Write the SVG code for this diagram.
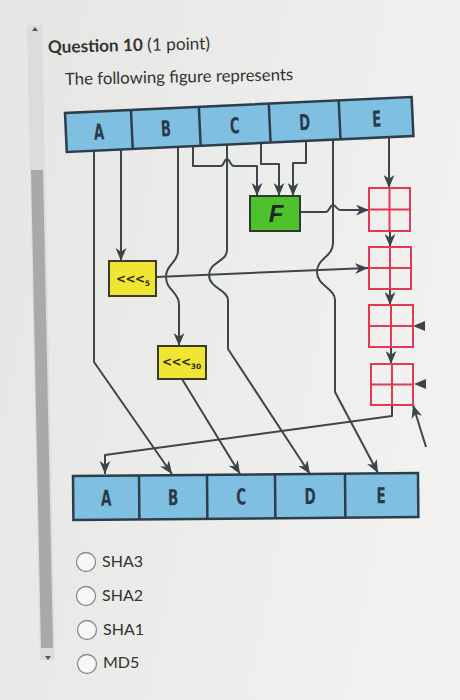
<svg xmlns="http://www.w3.org/2000/svg" width="460" height="700" viewBox="0 0 460 700">
<defs>
<linearGradient id="bg" x1="0" y1="0" x2="1" y2="0.3">
<stop offset="0" stop-color="#e5e5e3"/>
<stop offset="1" stop-color="#f1f1ef"/>
</linearGradient>
<marker id="ah" viewBox="0 0 12 10" refX="12" refY="5" markerWidth="13" markerHeight="11" markerUnits="userSpaceOnUse" orient="auto">
<path d="M0,0 L12,5 L0,10 L3.5,5 Z" fill="#3b444b"/>
</marker>
<style>
.ln{fill:none;stroke:#3d464d;stroke-width:2;stroke-linejoin:round}
.bar{fill:#7fbfe2;stroke:#2d3e4a;stroke-width:2.5}
.div{stroke:#2d3e4a;stroke-width:2.5}
.lt{font-family:"DejaVu Sans",sans-serif;font-weight:bold;fill:#2a3a48;text-anchor:middle}
.grid{fill:none;stroke:#e23a55;stroke-width:2}
.ybox{fill:#efe532;stroke:#3a3a28;stroke-width:2}
.yt{font-family:"DejaVu Sans",sans-serif;font-weight:bold;fill:#2f2f22;letter-spacing:-0.5px}
.ui{font-family:Lato,"Liberation Sans",sans-serif;fill:#333}
.opt{fill:#f7f7f6;stroke:#8c8c8c;stroke-width:1.3}
</style>
</defs>
<rect width="460" height="700" fill="url(#bg)"/>
<!-- scrollbar -->
<polygon points="27,25 42,25 55,660 40,660" fill="#dcdcda"/>
<polygon points="31,170 43,170 53,648 41,648" fill="#a9a9a8"/>
<path d="M32,31 L35,27 L38,31 Z" fill="#555"/>
<path d="M45,656 L51,656 L48,660 Z" fill="#555"/>

<text class="ui" x="48" y="53" font-size="17.2" transform="rotate(-1.3 48 53)"><tspan font-weight="bold">Question 10</tspan> (1 point)</text>
<text class="ui" x="65" y="85" font-size="16.8" transform="rotate(-1.2 65 85)">The following figure represents</text>

<g id="connectors">
<path class="ln" d="M94,148 V362 L172,474" marker-end="url(#ah)"/>
<path class="ln" d="M121,148 V261" marker-end="url(#ah)"/>
<path class="ln" d="M178,145 V251 C178,263 166,264 166,277 C166,290 179,292 179,304 V346" marker-end="url(#ah)"/>
<path class="ln" d="M193,144 V166 H221 C224,166 224,159 227,159 C230,159 230,166 234,166 H257 V196" marker-end="url(#ah)"/>
<path class="ln" d="M227,142 V250 C227,262 209,262 209,275 C209,288 228,290 228,300 V349 L310,474" marker-end="url(#ah)"/>
<path class="ln" d="M261,141 V164 H279 V196" marker-end="url(#ah)"/>
<path class="ln" d="M306,139 V163 H293 V196" marker-end="url(#ah)"/>
<path class="ln" d="M333,138 V243 C333,257 317,258 317,272 C317,286 335,288 335,300 V392 L378,473" marker-end="url(#ah)"/>
<path class="ln" d="M389,135 V188" marker-end="url(#ah)"/>
<path class="ln" d="M300,212 H326 C329,212 330,205 333,205 C336,205 337,210 340,210 H369" marker-end="url(#ah)"/>
<path class="ln" d="M156,277 L368,268" marker-end="url(#ah)"/>
<path class="ln" d="M390,231 V247" marker-end="url(#ah)"/>
<path class="ln" d="M390,289 V305" marker-end="url(#ah)"/>
<path class="ln" d="M391,347 V364" marker-end="url(#ah)"/>
<path class="ln" d="M182,379 L240,474" marker-end="url(#ah)"/>
<path class="ln" d="M392,405 V416 L105,455 V474" marker-end="url(#ah)"/>
<path class="ln" d="M426,447 L413,405" marker-end="url(#ah)"/>
<path d="M413,326 L425,321 L425,331 Z" fill="#3b444b"/>
<path d="M414,384 L426,379 L426,389 Z" fill="#3b444b"/>
</g>

<g id="top-register" transform="translate(65,113) rotate(-2.64)">
<rect class="bar" x="0" y="0" width="347" height="39"/>
<line class="div" x1="66" y1="0" x2="66" y2="39"/>
<line class="div" x1="134" y1="0" x2="134" y2="39"/>
<line class="div" x1="204" y1="0" x2="204" y2="39"/>
<line class="div" x1="274" y1="0" x2="274" y2="39"/>
<text class="lt" font-size="22" transform="translate(33,28) scale(0.6,1)">A</text>
<text class="lt" font-size="22" transform="translate(100,28) scale(0.6,1)">B</text>
<text class="lt" font-size="22" transform="translate(169,28) scale(0.6,1)">C</text>
<text class="lt" font-size="22" transform="translate(239,28) scale(0.6,1)">D</text>
<text class="lt" font-size="22" transform="translate(311,28) scale(0.6,1)">E</text>
</g>

<g id="F">
<rect x="250" y="196" width="50" height="35" fill="#4ec22c" stroke="#2e3a30" stroke-width="2"/>
<text x="276" y="222" font-family="Liberation Sans,sans-serif" font-style="italic" font-weight="bold" font-size="24" fill="#1f2a1f" text-anchor="middle">F</text>
</g>

<g id="rot5">
<rect class="ybox" x="109" y="261" width="47" height="35"/>
<text class="yt" x="116" y="283" font-size="12">&lt;&lt;&lt;<tspan font-size="7.5" dy="3" letter-spacing="0">5</tspan></text>
</g>
<g id="rot30">
<rect class="ybox" x="158" y="346" width="48" height="33"/>
<text class="yt" x="162" y="366" font-size="12">&lt;&lt;&lt;<tspan font-size="7.5" dy="3" letter-spacing="0">30</tspan></text>
</g>

<g id="grid1">
<rect class="grid" x="369" y="188" width="41" height="43"/>
<line class="grid" x1="389.5" y1="188" x2="389.5" y2="231"/>
<line class="grid" x1="369" y1="209.5" x2="410" y2="209.5"/>
</g>
<g id="grid2">
<rect class="grid" x="369" y="247" width="42" height="42"/>
<line class="grid" x1="390" y1="247" x2="390" y2="289"/>
<line class="grid" x1="369" y1="268" x2="411" y2="268"/>
</g>
<g id="grid3">
<rect class="grid" x="369" y="305" width="44" height="42"/>
<line class="grid" x1="391" y1="305" x2="391" y2="347"/>
<line class="grid" x1="369" y1="326" x2="413" y2="326"/>
</g>
<g id="grid4">
<rect class="grid" x="371" y="364" width="42" height="41"/>
<line class="grid" x1="392" y1="364" x2="392" y2="405"/>
<line class="grid" x1="371" y1="384.5" x2="413" y2="384.5"/>
</g>

<g id="bottom-register" transform="translate(73,476) rotate(-0.5)">
<rect class="bar" x="0" y="0" width="345" height="44"/>
<line class="div" x1="66" y1="0" x2="66" y2="44"/>
<line class="div" x1="134" y1="0" x2="134" y2="44"/>
<line class="div" x1="202" y1="0" x2="202" y2="44"/>
<line class="div" x1="272" y1="0" x2="272" y2="44"/>
<text class="lt" font-size="22" transform="translate(33,30) scale(0.62,1)">A</text>
<text class="lt" font-size="22" transform="translate(100,30) scale(0.62,1)">B</text>
<text class="lt" font-size="22" transform="translate(168,30) scale(0.62,1)">C</text>
<text class="lt" font-size="22" transform="translate(237,30) scale(0.62,1)">D</text>
<text class="lt" font-size="22" transform="translate(308,30) scale(0.62,1)">E</text>
</g>

<g id="options">
<circle class="opt" cx="86" cy="562" r="9.5"/>
<text class="ui" x="102" y="567" font-size="16">SHA3</text>
<circle class="opt" cx="86" cy="596" r="9.5"/>
<text class="ui" x="102" y="601" font-size="16">SHA2</text>
<circle class="opt" cx="87" cy="630" r="9.5"/>
<text class="ui" x="103" y="635" font-size="16">SHA1</text>
<circle class="opt" cx="87" cy="664" r="9.5"/>
<text class="ui" x="103" y="668" font-size="16">MD5</text>
</g>
</svg>
